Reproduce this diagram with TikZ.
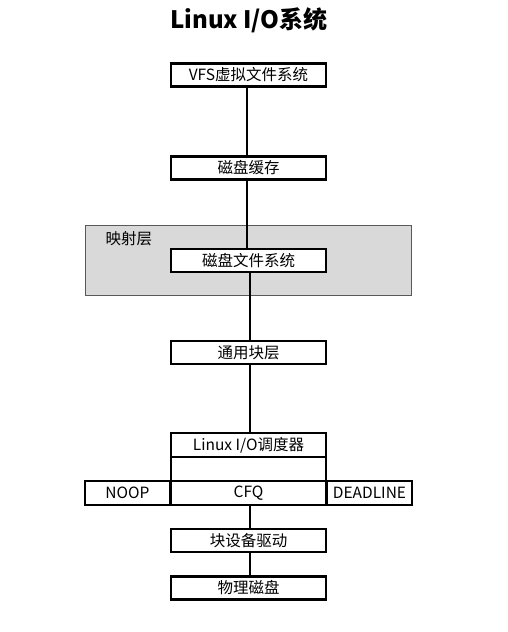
\documentclass[tikz,border=0pt]{standalone}
\usepackage{fontspec}
\setmainfont{Noto Sans CJK SC}
\begin{document}
\begin{tikzpicture}[x=1pt,y=-1pt,
  box/.style={draw=black, line width=2.2pt, fill=white, minimum width=155pt, minimum height=23pt, inner sep=0pt, font=\fontsize{15.5}{17}\selectfont},
  cell/.style={box, minimum height=24pt},
  conn/.style={line width=2.6pt, black},
  layer/.style={draw=gray!70!black, fill=black!15, line width=0.8pt, minimum width=326pt, minimum height=70pt, inner sep=0pt}]
\useasboundingbox (0,0) rectangle (507,632);
\fill[white] (0,0) rectangle (507,632);
\node[font=\bfseries\fontsize{24}{28}\selectfont] (title) at (249,20) {Linux I/O系统};
\node[box] (vfs) at (248.5,75) {VFS虚拟文件系统};
\node[box] (cache) at (248.5,168) {磁盘缓存};
\node[layer] (maplayer) at (248.5,260) {};
\node[anchor=west, font=\fontsize{15.5}{17}\selectfont] (maplabel) at (102,239) {映射层};
\node[box] (fs) at (248.5,260.5) {磁盘文件系统};
\node[box] (blk) at (248.5,352.5) {通用块层};
\node[cell] (sched) at (248.5,445) {Linux I/O调度器};
\node[cell] (schedmid) at (248.5,469) {};
\node[cell] (cfq) at (248.5,493) {CFQ};
\node[cell, minimum width=85pt] (noop) at (127.5,493) {NOOP};
\node[cell, minimum width=85pt] (deadline) at (369.5,493) {DEADLINE};
\node[box] (drv) at (248.5,540.5) {块设备驱动};
\node[box] (disk) at (248.5,588) {物理磁盘};
\draw[conn] ([xshift=-1.5pt]vfs.south) -- ([xshift=-1.5pt]cache.north);
\draw[conn] ([xshift=-1.5pt]cache.south) -- ([xshift=-1.5pt]fs.north);
\draw[conn] ([xshift=1.5pt]fs.south) -- ([xshift=1.5pt]blk.north);
\draw[conn] ([xshift=1.5pt]blk.south) -- ([xshift=1.5pt]sched.north);
\draw[conn] ([xshift=1.5pt]cfq.south) -- ([xshift=1.5pt]drv.north);
\draw[conn] ([xshift=1.5pt]drv.south) -- ([xshift=1.5pt]disk.north);
\end{tikzpicture}
\end{document}
